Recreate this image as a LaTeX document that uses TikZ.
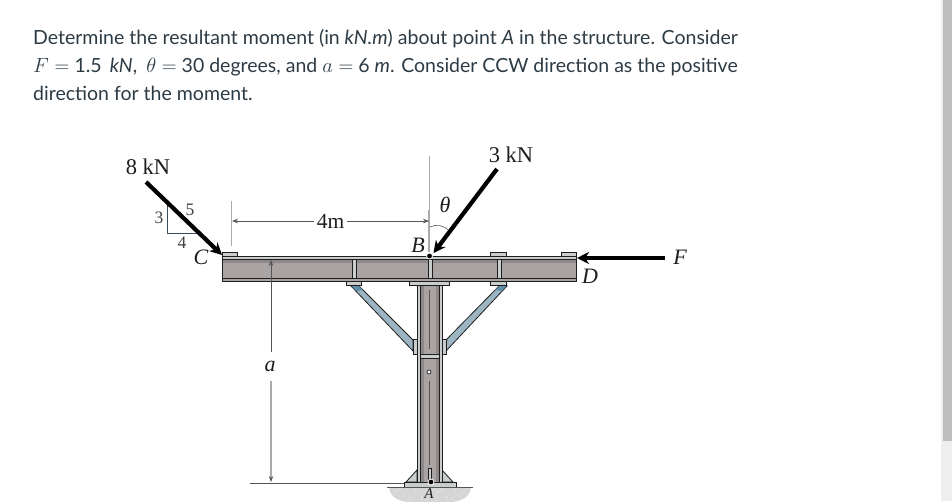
\documentclass[tikz,border=0pt]{standalone}
\usepackage{graphicx}
\usepackage{fontspec}
\setmainfont{Lato}
\newfontfamily\figfont{Liberation Serif}
\usetikzlibrary{arrows.meta}
\DeclareMathSizes{19.5}{17.28}{12}{10}
\newcommand\mth[1]{\scalebox{1.19}{$#1$}}
\definecolor{txtc}{HTML}{2D3B45}
\definecolor{steel}{HTML}{A9A3A3}
\definecolor{steelD}{HTML}{8E8888}
\definecolor{steelL}{HTML}{C9CDCD}
\definecolor{brace}{HTML}{9DB5C3}
\definecolor{braceD}{HTML}{5F8CA6}
\definecolor{ink}{HTML}{1E1E1E}
\definecolor{dim}{HTML}{555555}
\definecolor{ext}{HTML}{AAAAAA}
\definecolor{tri}{HTML}{3A4A60}
\tikzset{
  prose/.style={anchor=base west,inner sep=0pt,text=txtc,font=\fontsize{19.5}{24}\selectfont},
  lab/.style={inner sep=0pt,text=ink,font=\figfont\fontsize{22.5}{26}\selectfont},
  itlab/.style={inner sep=0pt,text=ink,font=\figfont\itshape\fontsize{22}{26}\selectfont},
  smalllab/.style={inner sep=0pt,text=ink!85,font=\figfont\fontsize{17.5}{20}\selectfont},
  steelpart/.style={draw=ink,line width=0.9pt,fill=steel},
  lightpart/.style={draw=ink,line width=0.8pt,fill=steelL},
  bracepart/.style={draw=ink,line width=0.8pt,fill=brace},
  force/.style={line width=4.2pt,-{Stealth[length=12pt,width=12pt]},draw=black},
  dimline/.style={line width=0.7pt,draw=dim,-{Stealth[length=6pt,width=4.5pt]}},
  extline/.style={line width=1pt,draw=ext},
}
\begin{document}
\begin{tikzpicture}[x=1pt,y=-1pt]
\clip (0,0) rectangle (952,501);
\fill[white] (0,0) rectangle (952,501);
% scrollbar
\fill[black!6.5] (941,0) rectangle (952,501);
\fill[black!26] (943,0) rectangle (952,441);
% prose
\node[prose] (l1) at (33,44) {Determine the resultant moment (in \textit{kN.m}) about point \textit{A} in the structure. Consider};
\node[prose] (l2) at (33,72) {\mth{F=} 1.5\hspace{3pt} \textit{kN},\hspace{4pt} \mth{\theta=} 30 degrees, and \mth{a=} 6 \textit{m}. Consider CCW direction as the positive};
\node[prose] (l3) at (33,100) {direction for the moment.};
% ground
\fill[black!16] (389,487) -- (471,487) .. controls (470,497) and (462,501) .. (452,502) -- (408,502) .. controls (398,501) and (390,497) .. (389,487) -- cycle;
\foreach \p in {(396,491),(404,496),(415,490),(422,497),(438,492),(447,497),(455,490),(462,493),(410,499),(452,499),(400,489),(442,489),(459,496)}
  \fill[white] \p circle (0.7);
% braces
\path[bracepart] (358,285) -- (413,340) -- (413,351) -- (351,286) -- cycle;
\path[bracepart] (500,285) -- (446,340) -- (446,351) -- (507,286) -- cycle;
\fill[braceD] (351,285) -- (358,285) -- (363,290) -- (356,291) -- cycle;
\fill[braceD] (507,285) -- (500,285) -- (495,290) -- (502,291) -- cycle;
\path[lightpart] (413,339) rectangle (417,354);
\path[lightpart] (442,339) rectangle (446,354);
% gussets
\path[lightpart] (406,482) -- (417,470) -- (417,482) -- cycle;
\path[lightpart] (453,482) -- (442,470) -- (442,482) -- cycle;
% column
\path[lightpart] (417,284) rectangle (442,483);
\path[steelpart] (420,284) rectangle (439,483);
\fill[steelD] (420.5,285) rectangle (424,482.5);
\fill[steelD] (435.5,285) rectangle (438.5,482.5);
\path[lightpart] (420,354) rectangle (439,358);
\draw[line width=0.8pt,dim] (429,290) -- (429,349);
\draw[line width=0.8pt,dim] (429,381) -- (429,465);
\draw[line width=0.7pt,ink,fill=white] (429,372) circle (2);
\path[draw=ink,line width=0.8pt,fill=steelL] (428,482) -- (428,468) -- (431,468) -- (431,482);
% base
\path[lightpart] (404,482.5) rectangle (456,487);
\draw[line width=1pt,dim] (387,487) -- (473,487);
\draw[line width=1pt,dim] (250,483) -- (404,483);
% beam
\path[steelpart] (222,256) rectangle (576,281);
\fill[steelD] (222.5,260) rectangle (575.5,263);
\path[draw=ink,line width=0.6pt,fill=steelL] (222,256) rectangle (576,259);
\draw[ink,line width=0.9pt] (222,278) -- (576,278);
\foreach \x in {352.5,428,497.5}
  \path[lightpart] (\x,259) rectangle ++(4,19);
% plates
\foreach \a/\b in {222/237,490/506,561/576}
  \path[lightpart] (\a,252.5) rectangle (\b,256);
\foreach \a/\b in {346/361,409/449,490/506}
  \path[lightpart] (\a,281) rectangle (\b,285);
% named points
\coordinate (Fa) at (146,182);
\coordinate (Ca) at (222,255);
\coordinate (Tk) at (497,169);
\coordinate (Ba) at (433.5,253);
\coordinate (Ff) at (665,258);
\coordinate (Da) at (577,258);
% dimensions
\draw[extline,line width=0.8pt] (429,156) -- (429,210);
\draw[extline,line width=1.2pt] (429,210) -- (429,252);
\draw[extline] (231,201) -- (231,246);
\node[lab,font=\figfont\fontsize{21.5}{26}\selectfont] (fourm) at (330.5,221) {4m};
\draw[dimline] (fourm.west) ++(-3,0) -- (232,221);
\draw[dimline] (fourm.east) ++(3,0) -- (429,221);
\node[itlab] (adim) at (270,366) {a};
\draw[dimline] (271,352) -- (271,260);
\draw[line width=1.2pt,draw=ext,-{Stealth[length=6pt,width=4.5pt,color=dim]}] (271,381) -- (271,482);
% angle
\draw[line width=0.6pt,dim] (430,227) .. controls (436,224) and (444,225) .. (449,231);
\node[itlab] (theta) at (445,205) {θ};
% 3-4-5
\draw[tri,line width=0.8pt] (167.5,205) -- (167.5,233) -- (199,233);
\node[smalllab] (three) at (159,218) {3};
\node[smalllab] (four) at (182,243) {4};
\node[smalllab] (five) at (190,210) {5};
% forces
\draw[force] (Fa) -- (Ca);
\draw[force] (Tk) -- (Ba);
\draw[force] (Ff) -- (Da);
% points
\draw[white,line width=0.8pt,fill=black] (429.5,256) circle (3);
\draw[white,line width=0.8pt,fill=black] (431,482) circle (3);
% labels
\node[lab] (k8) at (148,167) {8 kN};
\node[lab] (k3) at (511,155) {3 kN};
\node[itlab] (C) at (201,257) {C};
\node[itlab] (B) at (418,245) {B};
\node[itlab] (D) at (590,276) {D};
\node[itlab] (F) at (680,257) {F};
\node[itlab,font=\figfont\itshape\fontsize{15}{17}\selectfont] (A) at (429,494) {A};
\end{tikzpicture}
\end{document}
